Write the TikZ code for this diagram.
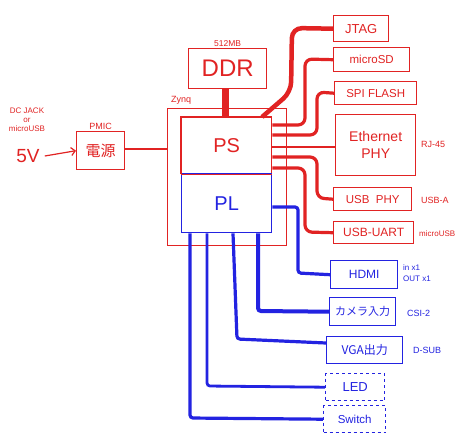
\documentclass[tikz,border=0pt]{standalone}
\usepackage{fontspec}
\usetikzlibrary{arrows.meta}
\setmainfont{Liberation Sans}
\newfontfamily\jp{Noto Sans CJK JP}
\definecolor{rd}{RGB}{225,35,35}
\definecolor{bl}{RGB}{35,35,225}
\begin{document}
\begin{tikzpicture}[x=1pt,y=-1pt,
  rbox/.style={draw=rd, line width=1.4pt, text=rd, inner sep=0pt, anchor=north west, font=\fontsize{11.5}{13}\selectfont},
  bbox/.style={draw=bl, line width=1.4pt, text=bl, inner sep=0pt, anchor=north west, font=\fontsize{11.5}{13}\selectfont},
  rnote/.style={text=rd, inner sep=0pt, font=\fontsize{8}{9}\selectfont},
  bnote/.style={text=bl, inner sep=0pt, font=\fontsize{8}{9}\selectfont},
  rline/.style={draw=rd, line width=3.2pt, rounded corners=7pt},
  bline/.style={draw=bl, line width=3.2pt, rounded corners=3pt}]
\useasboundingbox (0,0) rectangle (474,440);
\fill[white] (0,0) rectangle (474,440);

% left side
\node[rnote, align=center] (src) at (27,120) {DC JACK\\or\\microUSB};
\node[text=rd, inner sep=0pt, font=\fontsize{19}{20}\selectfont] (fivev) at (28,156) {5V};
\node[rbox, minimum width=48, minimum height=38, font=\jp\fontsize{15}{16}\selectfont] (pmic) at (76,131) {電源};
\node[rnote, font=\fontsize{9}{10}\selectfont, anchor=south] (pmiclbl) at ([yshift=1pt]pmic.north) {PMIC};
\draw[draw=rd, line width=1.2pt, -{Straight Barb[length=4pt]}] (fivev.east) ++(5,0) coordinate (a0) -- (pmic.west);

% zynq
\node[draw=rd, line width=1pt, minimum width=119, minimum height=137, anchor=north west, inner sep=0pt] (zynq) at (167,108) {};
\node[text=rd, inner sep=0pt, font=\fontsize{9}{10}\selectfont, anchor=south west] (zynqlbl) at (171,105) {Zynq};
\node[draw=rd, line width=1.4pt, minimum width=90, minimum height=56, anchor=north west, inner sep=0pt, text=rd, font=\fontsize{20}{22}\selectfont] (ps) at (181,117) {PS};
\node[draw=bl, line width=1.4pt, minimum width=90, minimum height=59, anchor=north west, inner sep=0pt, text=bl, font=\fontsize{20}{22}\selectfont] (pl) at (181,173) {PL};
\draw[draw=rd, line width=1.4pt] (ps.south west) -- (ps.south east);
\draw[draw=rd, line width=2.4pt] (ps.south west) -- (ps.north west) -- (ps.north east);
\draw[draw=rd, line width=1.8pt] (pmic.east |- 0,149) -- (zynq.west |- 0,149);

% DDR
\node[rbox, minimum width=78, minimum height=40, font=\fontsize{24}{26}\selectfont] (ddr) at (188,48) {DDR};
\node[rnote, font=\fontsize{8.5}{9}\selectfont, anchor=south] (ddrlbl) at ([yshift=1pt]ddr.north) {512MB};
\draw[draw=rd, line width=7pt] (ddr.south) ++(-2,0) coordinate (d0) -- (d0 |- ps.north);

% right red boxes
\node[rbox, minimum width=55, minimum height=26, font=\fontsize{13}{14}\selectfont] (jtag) at (333,15) {JTAG};
\node[rbox, minimum width=76, minimum height=24] (sd) at (333,47) {microSD};
\node[rbox, minimum width=82, minimum height=23] (spi) at (334,81) {SPI FLASH};
\node[rbox, minimum width=80, minimum height=61, align=center, font=\fontsize{14}{17}\selectfont] (eth) at (335,114) {Ethernet\\PHY};
\node[rbox, minimum width=78, minimum height=23] (usbphy) at (333,187) {USB\ \ PHY};
\node[rbox, minimum width=80, minimum height=22, font=\fontsize{12}{13}\selectfont] (uart) at (333,221) {USB-UART};
\node[rnote, anchor=west, font=\fontsize{9}{10}\selectfont] (rj) at (421,144) {RJ-45};
\node[rnote, anchor=west, font=\fontsize{9}{10}\selectfont] (usba) at (421,200) {USB-A};
\node[rnote, anchor=west] (musb) at (419,234) {microUSB};

% red connectors
\coordinate (j0) at (262,117);
\draw[rline, line width=4.5pt, rounded corners=10pt] (j0) -- (291,92) -- (292,28) -- (jtag.west);
\draw[rline] (ps.east |- 0,125) -- (305,125) -- (305,59) -- (sd.west);
\draw[rline] (ps.east |- 0,135) -- (317,135) -- (317,92) -- (spi.west);
\draw[draw=rd, line width=1.2pt] (ps.east |- 0,147) -- (eth.west |- 0,147);
\draw[rline] (ps.east |- 0,157) -- (317,157) -- (317,198) -- (usbphy.west);
\draw[rline] (ps.east |- 0,168) -- (305,168) -- (305,232) -- (uart.west);

% blue boxes
\node[bbox, minimum width=67, minimum height=28, font=\fontsize{12}{13}\selectfont] (hdmi) at (330,260) {HDMI};
\node[bbox, minimum width=66, minimum height=28, font=\jp\fontsize{11}{13}\selectfont] (cam) at (329,297) {カメラ入力};
\node[bbox, minimum width=76, minimum height=27, font=\jp\fontsize{12}{13}\selectfont] (vga) at (326,336) {VGA出力};
\node[bbox, dashed, minimum width=59, minimum height=27, font=\fontsize{13}{14}\selectfont] (led) at (325,373) {LED};
\node[bbox, dashed, minimum width=62, minimum height=27] (sw) at (323,405) {Switch};
\node[bnote, anchor=west, align=left] (hdminote) at (403,273) {in x1\\[2pt]OUT x1};
\node[bnote, anchor=west, font=\fontsize{9}{10}\selectfont] (csi) at (407,313) {CSI-2};
\node[bnote, anchor=west, font=\fontsize{9}{10}\selectfont] (dsub) at (413,350) {D-SUB};

% blue connectors
\draw[bline] (pl.east |- 0,207) -- (298,207) -- (298,273) -- (hdmi.west);
\draw[bline, line width=4pt] (pl.south -| 258,0) -- (258,311) -- (cam.west);
\draw[bline] (pl.south -| 233,0) -- (237,339) -- (vga.west |- 0,343);
\draw[bline, line width=2.8pt] (pl.south -| 207,0) -- (207,386) -- (led.west);
\draw[bline] (pl.south -| 190,0) -- (190,418) -- (sw.west);
\end{tikzpicture}
\end{document}
